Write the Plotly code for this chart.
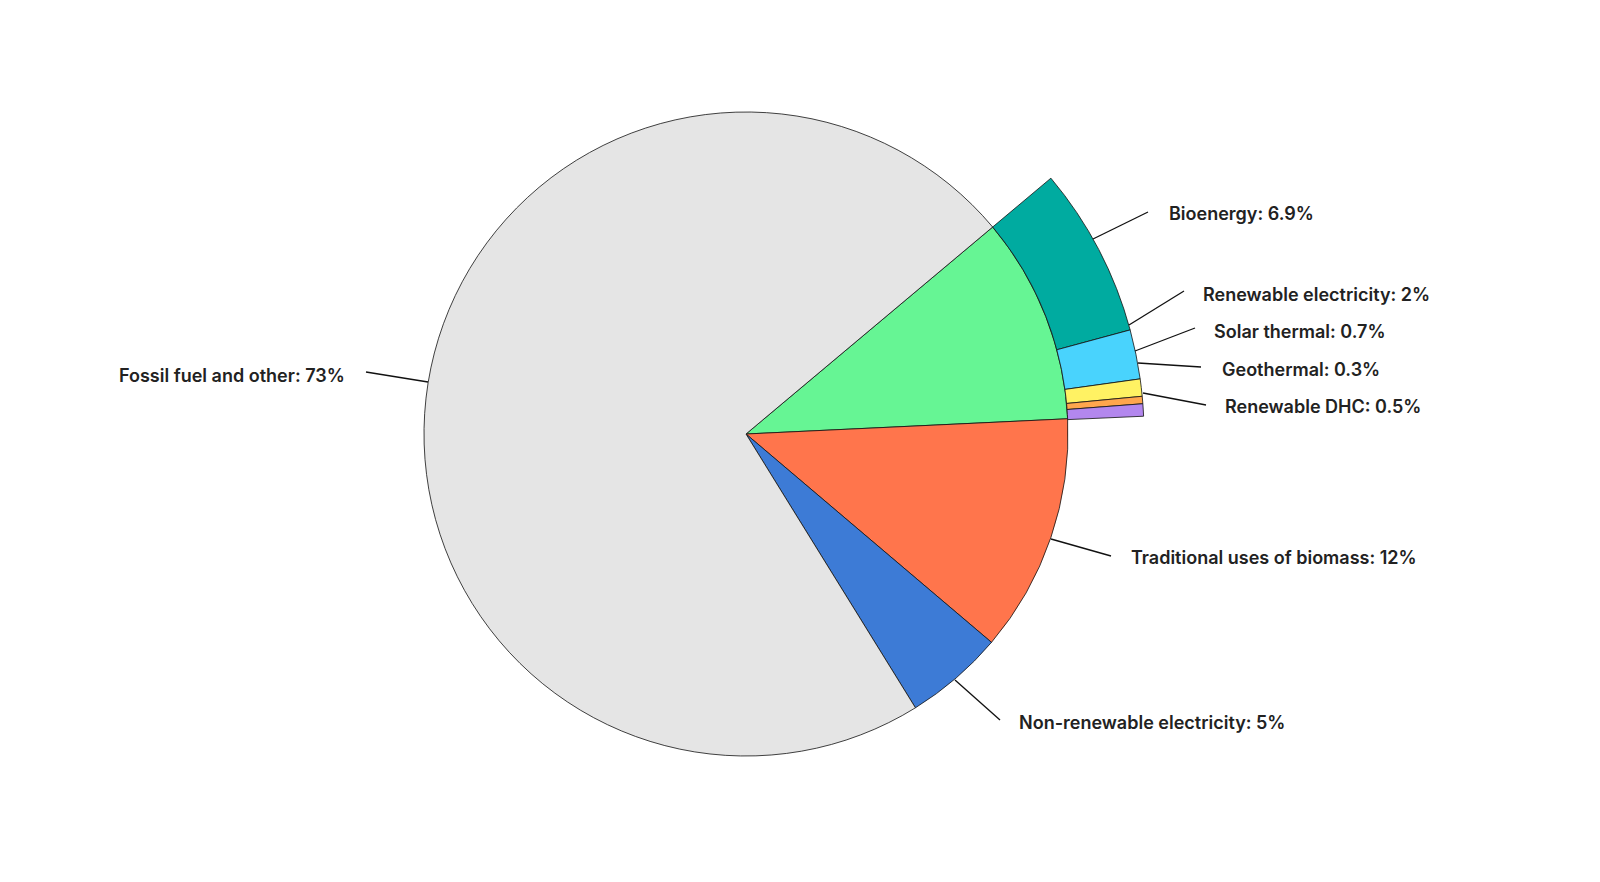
import plotly.graph_objects as go

W, H = 1600, 882
# Inner pie
inner_labels = ["Modern renewables", "Traditional uses of biomass", "Non-renewable electricity", "Fossil fuel and other"]
inner_values = [10.4, 12, 5, 73]
inner_colors = ["#66f594", "#ff754c", "#3d7bd6", "#e5e5e5"]
# Outer exploded ring (modern renewables breakdown)
outer_labels = ["Bioenergy", "Renewable electricity", "Solar thermal", "Geothermal", "Renewable DHC", "rest"]
outer_values = [6.9, 2, 0.7, 0.3, 0.5, 89.6]
outer_colors = ["#00aba0", "#49d3fd", "#fff263", "#ffa64d", "#b387ee", "rgba(0,0,0,0)"]

label_texts = ["Bioenergy: 6.9%", "Renewable electricity: 2%", "Solar thermal: 0.7%",
               "Geothermal: 0.3%", "Renewable DHC: 0.5%", "Traditional uses of biomass: 12%",
               "Non-renewable electricity: 5%", "Fossil fuel and other: 73%"]

cx, cy, r_in, r_out = 738, 426, 322, 398

def dom(r):
    return dict(x=[(cx - r) / W, (cx + r) / W], y=[1 - (cy + r) / H, 1 - (cy - r) / H])

fig = go.Figure()
fig.add_trace(go.Pie(values=inner_values, labels=inner_labels, sort=False, direction="clockwise",
                     rotation=50, marker=dict(colors=inner_colors, line=dict(color="#111", width=0.8)),
                     textinfo="none", hoverinfo="skip", domain=dom(r_in), showlegend=False))
fig.add_trace(go.Pie(values=outer_values, labels=outer_labels, sort=False, direction="clockwise",
                     rotation=50, hole=r_in / r_out,
                     marker=dict(colors=outer_colors, line=dict(color="#111", width=[0.8] * 5 + [0])),
                     textinfo="none", hoverinfo="skip", domain=dom(r_out), showlegend=False))

# leader lines (pixel endpoints) and text anchors
leaders = [((1085, 231), (1140, 204), (1159, 206), "left"),
           ((1121, 317), (1176, 283), (1193, 286), "left"),
           ((1127, 343), (1187, 320), (1204, 323), "left"),
           ((1130, 355), (1193, 359), (1212, 361), "left"),
           ((1135, 385), (1198, 397), (1215, 399), "left"),
           ((1043, 531), (1103, 548), (1121, 549), "left"),
           ((947, 672), (992, 712), (1009, 714), "left"),
           ((420, 374), (358, 364), (339, 367), "right")]
for (p0, p1, pt, al), txt in zip(leaders, label_texts):
    fig.add_shape(type="line", xref="paper", yref="paper",
                  x0=p0[0] / W, y0=1 - p0[1] / H, x1=p1[0] / W, y1=1 - p1[1] / H,
                  line=dict(color="#111", width=1.3))
    fig.add_annotation(x=pt[0] / W, y=1 - pt[1] / H, xref="paper", yref="paper", text=txt,
                       showarrow=False, xanchor=al, yanchor="middle",
                       font=dict(family="Inter", size=18, color="#222", weight=600))

fig.update_layout(width=W, height=H, margin=dict(l=0, r=0, t=0, b=0),
                  paper_bgcolor="white", plot_bgcolor="white")
fig.write_html("out.html")
